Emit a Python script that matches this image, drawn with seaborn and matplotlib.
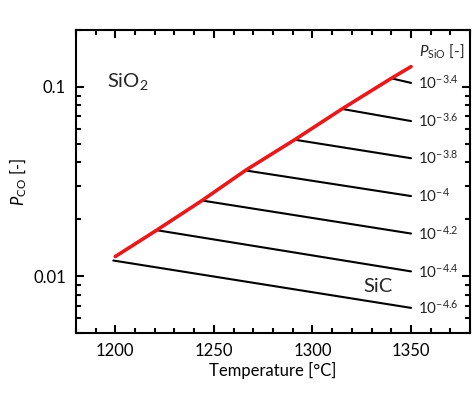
import numpy as np
import pandas as pd
import matplotlib
matplotlib.use('Agg')
import matplotlib.pyplot as plt
from matplotlib.ticker import MultipleLocator, LogLocator, FixedLocator, NullFormatter, FuncFormatter
import seaborn as sns

# data
psio_exp = ['-3.4', '-3.6', '-3.8', '-4', '-4.2', '-4.4', '-4.6']
start_T = [1340, 1315, 1291, 1266, 1244, 1221, 1199]
start_pco = [0.111, 0.0765, 0.0526, 0.0362, 0.0251, 0.0175, 0.0121]
end_T = 1350
end_pco = [0.105, 0.066, 0.042, 0.0265, 0.0168, 0.0106, 0.0068]

red_T = [1200, 1221, 1244, 1266, 1291, 1315, 1340, 1350]
red_pco = [0.0127, 0.0175, 0.0251, 0.0362, 0.0526, 0.0765, 0.111, 0.128]

sns.set_theme(style='ticks')
plt.rcParams['font.family'] = ['Lato', 'DejaVu Sans']
plt.rcParams['mathtext.fontset'] = 'custom'
plt.rcParams['mathtext.rm'] = 'Lato'
plt.rcParams['mathtext.it'] = 'Lato:italic'
plt.rcParams['mathtext.bf'] = 'Lato:bold'

rows = []
for i, e in enumerate(psio_exp):
    rows.append({'T': start_T[i], 'pco': start_pco[i], 'line': e})
    rows.append({'T': end_T, 'pco': end_pco[i], 'line': e})
df = pd.DataFrame(rows)

fig = plt.figure(figsize=(4.74, 3.99), dpi=100)
ax = fig.add_axes([0.160, 0.165, 0.832, 0.760])

sns.lineplot(data=df, x='T', y='pco', units='line', estimator=None,
             color='black', linewidth=1.5, legend=False, ax=ax)
sns.lineplot(x=red_T, y=red_pco, color='#e8191b', linewidth=2.6,
             legend=False, ax=ax, zorder=3)

ax.set_yscale('log')
ax.set_xlim(1180, 1380)
ax.set_ylim(0.005, 0.2)

ax.xaxis.set_major_locator(FixedLocator([1200, 1250, 1300, 1350]))
ax.xaxis.set_minor_locator(MultipleLocator(10))
ax.yaxis.set_major_locator(FixedLocator([0.01, 0.1]))
ax.yaxis.set_major_formatter(FuncFormatter(lambda v, _: f'{v:g}'))
ax.yaxis.set_minor_locator(LogLocator(base=10, subs=np.arange(2, 10)))
ax.yaxis.set_minor_formatter(NullFormatter())

ax.tick_params(which='both', direction='in', top=True, right=True,
               width=1.5, color='black', labelsize=12, labelcolor='black', pad=7)
ax.tick_params(which='major', length=6)
ax.tick_params(which='minor', length=3.5)
for s in ax.spines.values():
    s.set_linewidth(1.5)
    s.set_color('black')

ax.set_xlabel('Temperature [°C]', fontsize=12, color='black', labelpad=2)
ax.set_ylabel('$P_{\\mathrm{CO}}$ [-]', fontsize=12, color='black', labelpad=3)

ax.text(1196, 0.107, 'SiO$_2$', fontsize=14.5, ha='left', va='center')
ax.text(1333, 0.0088, 'SiC', fontsize=14.5, ha='center', va='center')
ax.text(1377, 0.155, '$P_{\\mathrm{SiO}}$ [-]', fontsize=11, ha='right', va='center')
for i, e in enumerate(psio_exp):
    ax.text(1353.5, end_pco[i], '10$^{\\mathrm{' + e + '}}$', fontsize=11,
            ha='left', va='center')

fig.savefig('out.png', dpi=100)
